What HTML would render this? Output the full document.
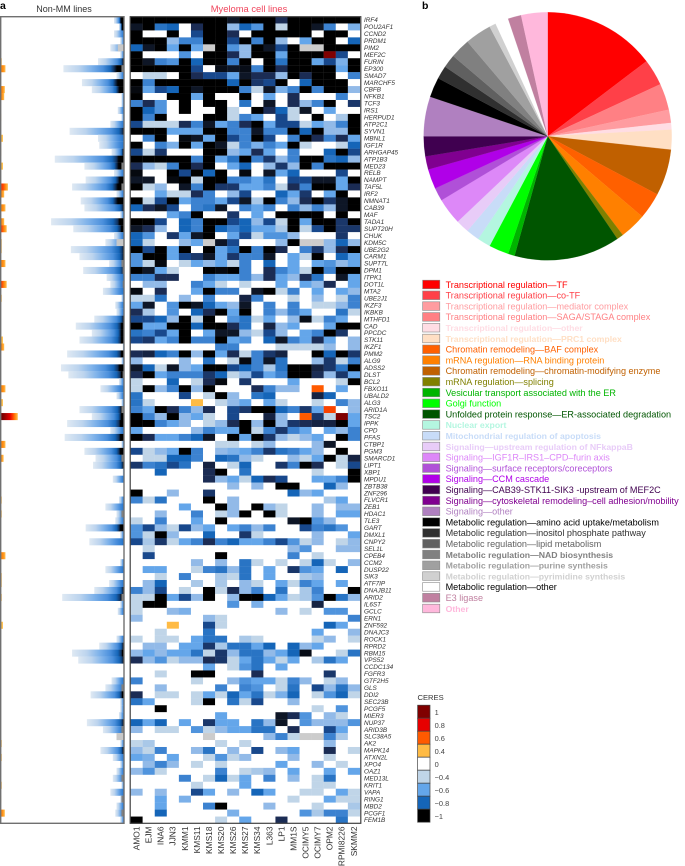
<!DOCTYPE html>
<html lang="en">
<head>
<meta charset="utf-8">
<title>CERES dependency heatmap and functional category pie</title>
<style>
html,body{margin:0;padding:0;background:#fff;}
body{width:685px;height:866px;overflow:hidden;font-family:"Liberation Sans",sans-serif;}
svg{display:block;font-family:"Liberation Sans",sans-serif;filter:blur(.3px);}
</style>
</head>
<body>
<svg id="chart" xmlns="http://www.w3.org/2000/svg" width="685" height="866" viewBox="0 0 685 866">
  <text x="0" y="9" font-size="10.5" font-weight="bold" fill="#000">a</text>
  <text x="422" y="9" font-size="10.5" font-weight="bold" fill="#000">b</text>
  <text x="64" y="12" font-size="9" text-anchor="middle" fill="#333">Non-MM lines</text>
  <text x="249" y="12" font-size="9.4" text-anchor="middle" fill="#f0455c">Myeloma cell lines</text>
  <defs id="grads"></defs>
  <g id="nonmm"></g>
  <g id="heat"></g>
  <g id="genes"></g>
  <g id="lines"></g>
  <rect x="0.7" y="16.7" width="123.3" height="806.6" fill="none" stroke="#707070" stroke-width="1.4"></rect>
  <rect x="130.2" y="16.7" width="230.6" height="806.6" fill="none" stroke="#404040" stroke-width="1.2"></rect>
  <g id="pie"></g>
  <g id="legend"></g>
  <g id="cbar">
    <text x="417.5" y="700" font-size="7.6" fill="#333">CERES</text>
  </g>
</svg>
<script>
const genes = ["IRF4","POU2AF1","CCND2","PRDM1","PIM2","MEF2C","FURIN","EP300","SMAD7","MARCHF5",
"CBFB","NFKB1","TCF3","IRS1","HERPUD1","ATP2C1","SYVN1","MBNL1","IGF1R","ARHGAP45",
"ATP1B3","MED23","RELB","NAMPT","TAF5L","IRF2","NMNAT1","CAB39","MAF","TADA1",
"SUPT20H","CHUK","KDM5C","UBE2G2","CARM1","SUPT7L","DPM1","ITPK1","DOT1L","MTA2",
"UBE2J1","IKZF3","IKBKB","MTHFD1","CAD","PPCDC","STK11","IKZF1","PMM2","ALG9",
"ADSS2","DLST","BCL2","FBXO11","UBALD2","ALG3","ARID1A","TSC2","IPPK","CPD",
"PFAS","CTBP1","PGM3","SMARCD1","LIPT1","XBP1","MPDU1","ZBTB38","ZNF296","FLVCR1",
"ZEB1","HDAC1","TLE3","GART","DMXL1","CNPY2","SEL1L","CPEB4","CCM2","DUSP22",
"SIK3","ATF7IP","DNAJB11","ARID2","IL6ST","GCLC","ERN1","ZNF592","DNAJC3","ROCK1",
"RPRD2","RBM15","VPS52","CCDC134","FGFR3","GTF2H5","GLS","DDI2","SEC23B","PCGF5",
"MIER3","NUP37","ARID3B","SLC38A5","AK2","MAPK14","ATXN2L","XPO4","OAZ1","MED13L",
"KRIT1","VAPA","RING1","MBD2","PCGF1","FEM1B"];

const cellLines = ["AMO1","EJM","INA6","JJN3","KMM1","KMS11","KMS18","KMS20","KMS26","KMS27","KMS34","L363","LP1","MM1S","OCIMY5","OCIMY7","OPM2","RPMI8226","SKMM2"];

/* CERES per gene (rows) and myeloma line (columns); null = not available */
const ceresValues = [
[-1,-1,-1,-1,-1,-1,-1,-1,-.95,-1,-1,-1,-.9,-1,-1,-1,-1,-1,-1],
[-.95,-1,-.75,-.8,0,-.9,-1,-1,-.5,-.8,-.65,-1,-.4,-1,-1,-.95,-.7,0,-.55],
[-1,0,0,-1,0,-.85,-1,-1,-.9,0,-1,-1,-1,-1,-1,0,-1,-1,0],
[-1,-1,-1,-.5,-.7,-.7,-1,-1,-.85,-1,-.7,-1,-.5,0,-.6,-1,-1,0,-.8],
[-.8,-.95,-1,-.6,-1,-.6,null,-1,-.65,-.5,-1,-.95,-.85,-1,null,null,-1,-1,-1],
[-1,0,0,0,-.65,0,-1,-1,-.9,-.5,-1,-1,-.6,-1,-1,-1,1,-.85,0],
[-1,-.95,-.7,-.65,-1,-.8,-1,-1,-.7,-1,0,-1,-.75,-1,-1,-.6,-.85,-.55,-1],
[-1,-1,-1,-1,-1,-.85,0,-.97,-.95,-.97,-.7,-1,-.9,-1,-1,-1,-1,-.6,-1],
[0,-.4,-.4,0,-1,-.9,-.85,-.85,-.6,-.95,-.9,-.9,-.5,-1,-.9,-1,-1,0,-.7],
[-1,-.7,-1,-1,-1,-1,-1,-1,-.8,-1,-.88,-.85,-1,0,-.8,-1,-1,-1,0],
[-.98,-.6,-.85,-.8,-1,-.95,-1,-1,-1,-.7,-.4,-.95,-.55,-.7,-1,-.7,-1,-1,-.5],
[-1,0,0,-1,-1,-.6,-1,0,0,-1,0,-.6,0,-.9,0,0,0,-.7,0],
[-.7,-.9,-.65,0,-1,0,-1,-1,0,-.75,0,-.95,0,-.9,-.5,-.7,-1,0,-.88],
[-1,-.8,-.65,0,-1,0,0,-1,-.4,0,-1,-.9,-.8,-.4,-.95,0,-.6,0,0],
[-1,-.7,-1,0,0,0,-1,-1,-.4,-.7,-.6,0,-.85,-.4,0,-1,0,-.45,-1],
[-.85,-.4,-.4,-.4,-.9,-.7,-.95,-.6,-.7,-.9,-1,-.6,-.85,-.85,-.4,-.6,-.5,-.7,-1],
[-1,-1,-1,-.6,-.6,-.6,-1,-1,-.7,-.7,-.95,-.7,-.7,-1,-.8,-1,-.5,-.5,-1],
[0,-.7,-1,0,-.98,-.95,-.6,-1,-.85,-.7,-1,-.85,0,-.7,-1,-.9,-.7,-.9,-.6],
[-1,0,-.7,-.55,-1,-.6,-1,-.95,-.4,-.7,-.55,-.7,-.6,-1,-.4,0,0,-.4,-.8],
[-.85,-.4,-.88,0,0,0,-1,-1,-.5,-.6,-.9,-.6,0,-.7,0,0,-.8,-1,-.85],
[-1,-1,-1,-1,-1,-.7,-1,-.6,-.75,-1,-.7,-.88,-.5,-.7,-1,-1,-.75,-.8,-.5],
[-.9,-.5,-.4,-.7,-1,-.9,-1,0,-.6,-.8,0,-.5,-.88,-.5,-1,-.7,-1,-1,-1],
[-.98,0,0,-1,-.85,-1,-.8,-1,0,-.98,0,-.95,-.6,-.8,0,0,0,-.85,0],
[-.95,-.95,0,-.98,-1,-.4,-1,-1,-.7,-.7,-.6,-.75,0,-.85,-.85,-.95,-.95,-.6,-1],
[-1,-.4,-.5,0,-.95,-.7,-1,-.88,-.88,-.6,-.6,-.7,-.4,-.9,-.7,-1,-1,-.6,-.9],
[0,0,-.6,-.4,-.4,-.9,-.7,0,-.5,-.85,0,0,-.8,-.6,-.88,0,-.6,-1,0],
[-1,-.4,-.85,-1,-.6,-.7,-.7,-.6,-.85,-.95,-.45,-1,-.7,-.5,-.9,-1,-.88,-.95,-1],
[-.8,-.9,-.95,-.85,0,-.7,-.75,-.95,0,-.7,-.6,-.7,0,-.7,-.5,-.7,-.5,-.95,-1],
[0,0,0,-.6,-.7,-1,0,0,-.88,0,-.6,0,-1,-1,-1,-1,0,-1,0],
[-1,-1,-.85,0,-.8,-.7,-1,-1,-.85,-.8,-.5,-.85,-.4,-1,-.6,-1,-1,-.88,-1],
[-.95,-.9,-.5,0,-.8,-.7,-1,-.8,-.7,-.8,-.6,-.6,-.45,-1,-.4,-.85,-1,-.88,-.88],
[-.8,-.65,0,-.88,-.6,-.95,-1,0,-.6,-.85,-.4,-.65,-.65,-.5,0,0,0,-.88,0],
[-.8,-.4,0,0,-.5,-.6,null,-.95,-.85,0,0,0,-.5,-1,null,null,-.5,-.8,-.5],
[-1,-.85,-1,-.6,-1,0,-1,-.6,-.75,-1,-.7,-1,-.9,0,-.7,-.88,-.5,-.9,-1],
[-.65,-1,-1,-.6,-.85,-.88,-.95,-.6,-.88,-.7,-.7,-.95,0,-.6,-.4,-1,0,-.8,-.6],
[-.65,-.4,-.98,0,-.4,-.6,-.5,-.6,-.4,-.7,0,-.8,0,-.6,0,-.6,-.65,-.5,-.6],
[-1,-.95,-.6,-.4,0,0,-1,-.98,-1,-.7,0,-.9,-.7,-.6,-.4,-1,-.7,-1,-1],
[-.7,-.7,-.9,-.9,0,0,-.7,-.6,-.6,-.7,-.5,-.9,-.6,-.5,-.9,-.75,0,-.95,-.6],
[0,-.5,-.5,0,0,-.7,-.6,-.4,0,-.4,0,0,-.6,0,-.6,-.5,-.9,0,-.6],
[-.98,0,-.9,0,0,-.6,-1,-.7,-.7,0,-.95,-1,-.4,-.7,0,-.6,0,-.6,-.5],
[-.4,-.4,-.75,0,-.5,0,-.7,0,0,-.92,-.7,0,0,-.4,0,-.5,0,-.4,-.7],
[-.6,-.95,0,-.65,-1,-.95,-.8,-.6,-.5,-.95,0,-.7,0,-.7,0,-.4,-.4,-.5,-.7],
[-.9,-.45,0,-.65,0,-.8,-.9,-1,-.6,-1,0,-.7,-.5,-.7,-.6,0,0,-.75,-.4],
[-.85,-.85,-.8,-.5,-1,-.4,-1,0,-.65,-.75,-.4,-.6,0,-.5,-.97,-.4,-.7,-.6,0],
[-1,-.6,-.6,-1,-1,-.8,-1,-1,-.9,-.75,0,-.92,-.5,-.6,0,0,-.6,-1,-1],
[-.75,-.7,-.85,-.6,-1,0,-.6,-.95,-.95,-.5,-.4,-.85,-.5,0,-.6,-.7,-1,-.88,0],
[-.85,-.88,-.6,-.7,-1,-.7,-.7,-1,-.6,-.65,0,-.8,-.95,-.7,-.6,-.9,-.6,0,-.5],
[0,0,0,0,0,0,0,-.7,-.7,0,0,0,-.4,-.4,-.4,-.4,-.5,0,-.5],
[-.9,-.92,-.8,-.7,-1,-.5,-1,-.6,-.9,-.4,-.7,-.88,-.92,0,0,-1,-.8,-1,-.88],
[-.5,0,0,0,-.5,0,-.75,0,-.4,-.98,-.7,-.95,-.75,0,0,-.5,-.88,-.4,-.7],
[-.95,-.8,-.4,-.95,-.5,-.6,-1,-1,-.85,-.8,-.7,-.45,-.75,-1,-1,-.92,-.88,-.75,-1],
[-.9,-1,-.6,-.7,-.7,-.7,-.88,-.8,-.4,-.5,-.85,-.6,-.7,-1,-1,-.9,-.5,-.88,-.6],
[-.4,0,0,-.8,0,-.4,-.9,-.98,0,-.88,0,0,0,-.6,0,0,0,-.4,-1],
[-.4,-1,-.5,-.7,-1,-.5,-1,0,0,0,-.9,-.7,-.5,-.5,0,.6,0,-.6,0],
[-.75,0,0,0,-.85,0,-.4,-1,-.5,0,-.75,-.8,0,0,0,-.92,-.8,0,0],
[-.75,-.4,0,0,0,.4,0,-.4,-.5,-.6,0,-.6,-.4,0,0,-.4,0,-.7,-.5],
[-.7,-.6,-1,-.9,-.7,-.5,-.9,0,-.85,-.88,-1,-1,-.8,-.7,-.88,-.6,.65,0,-.5],
[-1,-.7,-.5,-1,-.5,-.6,-.4,0,-.85,0,0,-.92,-.5,0,.6,-.88,-.4,1,-.6],
[-1,-1,-.7,-.6,-.5,0,-.4,-.5,-.9,-1,-.5,-1,-.5,-.88,-.9,-.92,-.92,-1,-.6],
[-.6,0,0,0,0,-.5,-.7,-.6,-.6,-1,-.4,-.7,-.88,-.7,-.6,0,-.6,-.5,-.7],
[-1,-.9,-.6,-.6,-.7,-.8,-.95,0,-1,-.6,-1,-.88,-.5,-.4,-.5,-.6,0,-1,-.7],
[0,0,0,0,0,0,0,-.4,-.4,0,-.4,-.5,0,0,0,-.5,-.95,0,0],
[-.85,-.4,-.5,-.6,-1,-.7,0,-.5,-.55,-.6,-.7,-.88,-.75,-.7,-.6,-.5,0,-1,0],
[0,-.4,-.4,-.8,-.8,-.7,0,-.8,-.75,-.5,-.4,0,0,-.5,-.4,-.6,-1,-.4,-.92],
[-.88,-.7,-.75,-.85,-.75,0,-.92,0,-.4,-.8,0,0,-.88,-.7,-1,-.9,0,-.4,-.85],
[0,0,-.8,0,0,0,-.9,-1,0,-.75,0,0,0,0,0,-.4,0,0,-1],
[0,0,0,0,0,0,-.9,-.5,-.6,-.4,-.8,-.9,-.85,0,0,-.6,-.6,-.7,-1],
[0,0,0,0,0,0,0,0,-.5,0,-.5,0,-1,-1,0,0,-.8,-.5,0],
[-1,0,0,-.5,0,0,-.88,0,0,0,0,0,0,-.8,-.5,-.6,0,0,0],
[-.7,-.4,-.75,0,0,0,-1,0,-.5,0,0,0,0,0,0,0,-.45,-.6,0],
[0,0,0,0,-.6,0,0,-1,-.5,0,-1,-.5,-.4,0,0,-.5,0,-.5,-.5],
[0,0,-.5,0,0,-.7,0,-.4,-.5,-1,0,-1,-.4,0,0,-.5,0,-.6,-.6],
[-.4,0,-.7,0,0,-.6,0,-1,0,0,0,0,0,-.95,-1,-.65,-.5,0,0],
[-.65,-.85,-.5,-.4,-.85,-.5,-.6,0,-.6,-.7,-.5,-.7,0,0,-.85,-.7,-.75,-.65,0],
[-.65,-.4,-1,-.5,0,0,-.8,0,0,-.88,-.4,0,0,0,0,-.5,0,0,-.6],
[-.85,-.45,-.88,-.4,-.6,-.7,-.9,-.7,-.8,-.6,-.6,-.7,-.85,-.65,-.4,-.5,0,-.4,-.5],
[0,-.4,0,0,0,0,0,0,0,0,0,0,0,-.5,-.65,0,0,-.5,-.5],
[0,-.85,0,0,0,0,0,-1,0,0,0,0,0,-.7,0,-.4,0,0,0],
[0,0,0,0,0,-.5,0,-.5,0,-.75,-.4,0,-.4,0,-.4,-.8,-.4,0,-.5],
[0,-.6,-.6,0,0,-.4,-.7,-.75,-.5,-.75,0,-.6,0,-.88,-.65,-.6,0,-.8,0],
[0,0,-.4,0,-.7,0,0,-.45,-.4,-.75,0,-.6,0,0,-.45,-.5,0,0,0],
[0,-.5,-.8,0,0,-.45,0,-.45,0,-.5,-.4,0,-.6,-.4,-.7,-.6,0,-.6,0],
[-.7,-.5,-.85,0,-.4,0,-1,-.4,-.9,-.5,-.7,0,-.75,0,-.45,-.7,0,0,-1],
[-.4,-.4,-1,-.6,-.85,-.5,-1,0,-.5,-1,-1,-.8,-.6,-.4,-.45,-.65,-1,-.75,-.5],
[-.4,-1,-1,0,0,0,0,0,-.65,0,-.55,0,0,0,0,-.92,0,0,0],
[-.4,0,0,-.5,-.55,0,0,0,0,0,0,0,-.5,0,-.4,0,-.65,-.65,0],
[-.5,0,0,0,0,0,-.5,-.4,0,0,0,0,0,0,0,0,0,0,-.7],
[0,0,0,.4,0,0,-.85,-.4,0,0,0,0,0,0,0,0,-.8,-.6,0],
[0,0,-.4,0,0,0,-.75,0,0,0,0,0,0,0,0,-.6,0,0,-.5],
[-.4,0,-.4,-.4,0,-.6,-.75,-.75,0,-.45,-.4,0,0,0,0,-.4,-.5,0,-.4],
[0,-.5,-.5,0,-.6,-.6,-.88,-.45,-.75,-.75,-.6,-.8,0,-.8,-.5,-.6,0,0,0],
[-.5,-.6,-.5,-.6,-.6,-.75,-.4,-.88,-.5,-.75,-.75,-.5,-.6,-.8,-.97,0,0,-.4,-.75],
[-.9,-.5,-.65,-.4,-.5,-.5,-.9,-.88,-.4,-.6,-.75,-.6,-.4,-.6,0,-.45,-.75,-.6,0],
[0,0,0,0,0,0,-.6,0,-.4,-.65,-.75,0,-.6,0,0,0,0,0,0],
[0,0,-.4,0,0,-1,-1,0,0,0,-.9,0,0,0,0,0,-.88,0,0],
[-.7,0,0,0,0,-.4,0,0,-.5,-.65,-.6,-.6,-.4,-.7,-.5,0,-.4,-.5,0],
[0,0,-.5,0,0,0,0,-.7,0,-.7,-.65,0,-.4,-.75,0,-.85,-.5,-.75,-.5],
[-.9,0,-.4,-.4,0,-.4,-.6,-.4,-.8,-.6,-.75,-.4,-.55,-.8,0,-.4,-.65,-.8,-.4],
[-.75,-.6,0,0,0,-.4,-1,0,-.75,-.4,-.85,0,0,-.5,0,0,0,0,0],
[0,0,-1,0,0,0,0,0,0,0,0,0,0,0,0,-.4,0,-.65,0],
[0,0,0,0,0,0,0,-.6,0,0,0,0,-.95,-.9,-.65,0,-.5,-.4,0],
[-.8,-.6,-.8,0,-.6,0,-.88,-.6,-.6,0,-.75,-.5,-.95,0,-.65,-.5,-.5,-.5,-.65],
[-.5,0,-.4,-.4,0,-.65,-.4,-.5,-.6,-.6,-.75,-.75,0,-.9,0,0,-.85,-.6,0],
[0,0,0,0,0,0,null,0,0,0,0,-.5,-.7,-.4,null,null,-.7,-.45,0],
[-.4,-.45,0,0,0,0,0,-.4,0,-.4,0,0,0,0,0,0,-.5,0,0],
[-.5,-.4,-.7,0,0,-.5,-.75,0,-.5,0,-.85,0,-.5,-.6,0,0,-.9,0,-.4],
[-.6,-.55,0,-.6,0,0,-.4,-.65,-.4,-.5,0,0,0,-.5,0,0,-.4,0,0],
[0,-.5,-.7,-.5,0,-.4,0,-.4,0,0,0,0,-.6,0,0,-.5,0,-.4,0],
[-.5,-.65,-.4,0,0,0,0,-.7,0,-.4,-.45,-.5,0,-.6,0,0,-.6,0,-.6],
[0,0,0,0,-.7,0,-.4,-.8,-.4,-.6,0,-.7,0,-.5,0,-.4,-.75,0,0],
[0,0,0,0,0,-.4,0,0,0,-.6,0,0,0,0,0,-.4,-.4,0,0],
[-.5,0,-.5,0,0,-.85,-.6,0,-.5,0,-.8,-.6,0,0,-.4,-.4,0,-.6,-.4],
[0,0,-.6,0,-.55,0,0,0,0,0,0,0,0,-.4,0,0,-.6,-.4,-.4],
[0,0,-.6,0,0,0,-.7,-1,0,0,0,-.5,0,0,0,-.4,0,0,-.45],
[0,0,-.8,0,0,0,0,0,-.55,0,0,0,0,0,-.65,-.45,-.7,-.7,-.4],
[-1,0,0,0,0,0,0,-.4,0,-.6,0,0,-.9,0,0,0,0,-.75,0]
];

/* Non-MM panel: share of lines (percent of panel width) per gene */
const nonMMDependentPct = [8,4,8,3,11,3,21,49,6,34,
26,2,2,5,2,11,44,21,20,10,
56,32,8,31,42,6,35,32,3,59,
41,8,15,43,36,12,33,14,11,17,
2,7,6,24,39,26,36,1,46,2,
51,45,4,19,6,2,36,26,46,11,
48,2,32,23,25,1,9,0,0,4,
15,6,7,31,3,28,0,0,3,15,
1,12,24,50,3,5,0,0,0,6,
20,42,37,0,0,10,15,27,3,3,
4,30,17,0,3,19,9,3,6,9,
2,11,3,6,7,3];
const nonMMStrongPct = [3,2,0,0,0,0,1,8,0,7,
5,0,0,0,0,0,1,0,0,1,
6,6,0,5,7,0,7,1,0,5,
3,0,0,1,1,0,1,0,0,0,
0,0,0,1,3,3,3,0,3,0,
5,3,0,0,0,0,3,3,4,0,
4,0,4,1,1,0,0,0,0,0,
0,0,0,4,0,0,0,0,0,0,
0,0,1,3,0,0,0,0,0,0,
1,2,1,0,0,0,0,2,0,0,
0,1,0,0,0,1,0,0,0,0,
0,0,0,0,0,0];
const nonMMMissingPct = [0,0,0,0,5,0,0,2,0,0,
0,0,0,0,0,0,0,0,0,0,
0,2,0,0,2,0,0,0,0,0,
0,0,6,0,0,2,1,0,1,0,
0,0,0,0,0,0,0,0,0,0,
0,1,0,0,0,0,2,0,0,0,
0,0,0,2,0,0,0,0,0,0,
0,2,0,0,0,0,0,0,0,0,
0,0,0,2,0,0,0,0,0,0,
0,0,0,0,0,0,2,0,0,0,
0,0,2,6,0,0,0,0,0,2,
0,0,2,0,2,0];
const nonMMPositivePct = [0,0,0,0,0,0,1,4,0,0,
3.5,3,0,0,.5,0,0,2,0,.5,
0,2,0,0,6,3,0,4,0,3,
5,0,1,1,0,4,0,0,5,0,
1,0,0,0,0,0,2,3,0,0,
0,0,0,4,0,2,.5,14,0,0,
0,4,0,2.5,0,0,0,0,0,1,
0,1,0,0,0,0,0,4,0,0,
1,1,0,1,0,0,0,2,0,0,
0,0,0,0,0,0,0,0,0,0,
0,0,0,0,1,0,1,0,0,0,
1,0,.5,0,3.5,0];

/* Legend and pie */
const legendNames = ["Transcriptional regulation—TF","Transcriptional regulation—co-TF","Transcriptional regulation—mediator complex","Transcriptional regulation—SAGA/STAGA complex","Transcriptional regulation—other","Transcriptional regulation—PRC1 complex","Chromatin remodeling—BAF complex","mRNA regulation—RNA binding protein","Chromatin remodeling—chromatin-modifying enzyme","mRNA regulation—splicing","Vesicular transport associated with the ER","Golgi function","Unfolded protein response—ER-associated degradation","Nuclear export","Mitochondrial regulation of apoptosis","Signaling—upstream regulation of NFkappaB","Signaling—IGF1R–IRS1–CPD–furin axis","Signaling—surface receptors/coreceptors","Signaling—CCM cascade","Signaling—CAB39-STK11-SIK3 -upstream of MEF2C","Signaling—cytoskeletal remodeling–cell adhesion/mobility","Signaling—other","Metabolic regulation—amino acid uptake/metabolism","Metabolic regulation—inositol phosphate pathway","Metabolic regulation—lipid metabolism","Metabolic regulation—NAD biosynthesis","Metabolic regulation—purine synthesis","Metabolic regulation—pyrimidine synthesis","Metabolic regulation—other","E3 ligase","Other"];
const legendColors = ["#ff0000","#ff4048","#ff9ca0","#ff8084","#ffdde4","#ffdfc4","#ff6000","#ff8000","#c06000","#808000","#00b400","#00ff00","#005500","#b4f6e0","#c8dcf8","#e8ccf8","#dd88f8","#b050d8","#b000e8","#400050","#800090","#b080c0","#000000","#303030","#606060","#808080","#a0a0a0","#d0d0d0","#ffffff","#c080a0","#ffb8dc"];
const legendBold = ["Transcriptional regulation—other","Transcriptional regulation—PRC1 complex","Nuclear export","Mitochondrial regulation of apoptosis","Signaling—upstream regulation of NFkappaB","Metabolic regulation—NAD biosynthesis","Metabolic regulation—purine synthesis","Metabolic regulation—pyrimidine synthesis","Other"];
const pieSliceNames = ["Transcriptional regulation—TF","Transcriptional regulation—co-TF","Transcriptional regulation—SAGA/STAGA complex","Transcriptional regulation—mediator complex","Transcriptional regulation—other","Transcriptional regulation—PRC1 complex","Chromatin remodeling—chromatin-modifying enzyme","Chromatin remodeling—BAF complex","mRNA regulation—RNA binding protein","mRNA regulation—splicing","Unfolded protein response—ER-associated degradation","Vesicular transport associated with the ER","Golgi function","Nuclear export","Mitochondrial regulation of apoptosis","Signaling—upstream regulation of NFkappaB","Signaling—IGF1R–IRS1–CPD–furin axis","Signaling—surface receptors/coreceptors","Signaling—CCM cascade","Signaling—cytoskeletal remodeling–cell adhesion/mobility","Signaling—CAB39-STK11-SIK3 -upstream of MEF2C","Signaling—other","Metabolic regulation—amino acid uptake/metabolism","Metabolic regulation—inositol phosphate pathway","Metabolic regulation—lipid metabolism","Metabolic regulation—NAD biosynthesis","Metabolic regulation—purine synthesis","Metabolic regulation—pyrimidine synthesis","Metabolic regulation—other","E3 ligase","Other"];
const pieCounts = [17,4,4,2,1,3,7,4,4,1,16,1,3,2,2,2,4,2,3,2,3,6,3,2,2,3,4,1,2,2,4];

const colorbarValues = [1,.8,.6,.4,0,-.4,-.6,-.8,-1];
const colorbarLabels = ["1","0.8","0.6","0.4","0","−0.4","−0.6","−0.8","−1"];

const SVGNS = "http://www.w3.org/2000/svg";
function make(parent, tag, attrs){
  const el = document.createElementNS(SVGNS, tag);
  for (const k in attrs) el.setAttribute(k, attrs[k]);
  parent.appendChild(el);
  return el;
}
const rowTop = 16.5, rowH = 6.957;
const heatLeft = 130.6, colW = 12.07;
const panelLeft = 0.5, panelW = 123.4;
const yRow = r => rowTop + r * rowH;
const xCol = c => heatLeft + c * colW;
const pctW = p => p / 100 * panelW;

const colorStops = [
  [-1,[0,0,0]],[-.95,[14,22,38]],[-.9,[27,44,84]],[-.85,[24,72,140]],[-.8,[21,101,184]],
  [-.7,[60,130,208]],[-.6,[100,166,234]],[-.5,[146,186,232]],[-.4,[192,213,232]],
  [-.3,[255,255,255]],[.3,[255,255,255]],[.4,[255,187,68]],[.6,[255,90,0]],[.8,[230,0,0]],[1,[128,0,0]]
];
function ceresColor(v){
  if (v === null) return "#cccccc";
  if (v <= -1) return "rgb(0,0,0)";
  if (v >= 1) return "rgb(128,0,0)";
  for (let i = 1; i < colorStops.length; i++){
    if (v <= colorStops[i][0]){
      const a = colorStops[i-1], b = colorStops[i];
      const t = (v - a[0]) / (b[0] - a[0]);
      return "rgb(" + [0,1,2].map(k => Math.round(a[1][k] + (b[1][k]-a[1][k])*t)).join(",") + ")";
    }
  }
  return "#fff";
}

/* heatmap cells */
const heatG = document.getElementById("heat");
ceresValues.forEach((row, r) => {
  row.forEach((v, c) => {
    const cell = make(heatG, "rect", {x: xCol(c), y: yRow(r), width: colW + .15, height: rowH + .15, fill: ceresColor(v)});
    
    
  });
});

/* gene labels */
const geneG = document.getElementById("genes");
genes.forEach((g, r) => {
  const t = make(geneG, "text", {x: 364, y: yRow(r) + rowH/2 + 2.2, "font-size": 6.4, "font-style": "italic", fill: "#333"});
  t.textContent = g;
  
  
});

/* cell line labels */
const lineG = document.getElementById("lines");
cellLines.forEach((n, c) => {
  const cx = xCol(c) + colW/2 + 2.9;
  const t = make(lineG, "text", {x: cx, y: 826.5, "font-size": 8.4, fill: "#333", "text-anchor": "end", transform: "rotate(-90 " + cx + " 826.5)"});
  t.textContent = n;
  
  
});

/* non-MM panel */
const nmG = document.getElementById("nonmm");
const defs = document.getElementById("grads");
function addStop(grad, off, col){
  make(grad, "stop", {offset: off, "stop-color": col});
}
genes.forEach((g, r) => {
  const w = pctW(nonMMDependentPct[r]);
  const deep = pctW(nonMMStrongPct[r]);
  if (w > 0){
    const id = "neg" + r;
    const grad = make(defs, "linearGradient", {id: id, x1: 0, x2: 1, y1: 0, y2: 0});
    const frac = deep / w;
    const span = 1 - frac;
    addStop(grad, 0, "#dfe9f3");
    addStop(grad, span * .3, "#bcd4ee");
    addStop(grad, span * .55, "#7eb2ea");
    addStop(grad, span * .78, "#4a8fdc");
    addStop(grad, span * .93, deep > 0 ? "#1565b8" : "#2f7cd0");
    addStop(grad, span, deep > 0 ? "#10325e" : "#1f6cc0");
    addStop(grad, Math.min(1, span + frac * .3), deep > 0 ? "#000" : "#1f6cc0");
    addStop(grad, 1, deep > 0 ? "#000" : "#1f6cc0");
    const bar = make(nmG, "rect", {x: panelLeft + panelW - w, y: yRow(r), width: w, height: rowH + .1, fill: "url(#" + id + ")"});
    
    
  }
  const gw = pctW(nonMMMissingPct[r]);
  if (gw > 0){
    const gr = make(nmG, "rect", {x: panelLeft + panelW - gw, y: yRow(r), width: gw, height: rowH + .1, fill: gw > 4 ? "#c8c8c8" : "#808080"});
    
    
  }
  const pw = pctW(nonMMPositivePct[r]);
  if (pw > 0){
    const id = "pos" + r;
    const grad = make(defs, "linearGradient", {id: id, x1: 0, x2: 1, y1: 0, y2: 0});
    const stops = [[0,"#ffc050"],[2.5,"#ff8a10"],[5,"#ff4000"],[8,"#e00000"],[15,"#7a0000"]];
    stops.slice().reverse().forEach(s => {
      if (s[0] <= pw) addStop(grad, 1 - s[0]/pw, s[1]);
    });
    if (pw < 2.5) { addStop(grad, 0, "#ff9a20"); addStop(grad, 1, "#ffc050"); }
    const bar = make(nmG, "rect", {x: panelLeft, y: yRow(r), width: pw, height: rowH + .1, fill: "url(#" + id + ")"});
    
    
  }
});

/* pie */
const pieG = document.getElementById("pie");
const pieCx = 547.7, pieCy = 136.3, pieR = 124;
const pieTotal = pieCounts.reduce((a,b)=>a+b,0);
const legendColorOf = n => legendColors[legendNames.indexOf(n)];
let running = 0;
pieCounts.forEach((cnt, i) => {
  const a0 = running / pieTotal * 2 * Math.PI;
  running += cnt;
  const a1 = running / pieTotal * 2 * Math.PI;
  const large = (a1 - a0) > Math.PI ? 1 : 0;
  const d = "M" + pieCx + " " + pieCy +
    "L" + (pieCx + pieR*Math.sin(a0)).toFixed(2) + " " + (pieCy - pieR*Math.cos(a0)).toFixed(2) +
    "A" + pieR + " " + pieR + " 0 " + large + " 1 " + (pieCx + pieR*Math.sin(a1)).toFixed(2) + " " + (pieCy - pieR*Math.cos(a1)).toFixed(2) + "Z";
  const col = legendColorOf(pieSliceNames[i]);
  const s = make(pieG, "path", {d: d, fill: col, stroke: col, "stroke-width": .2});
  
  
});

/* legend */
const legG = document.getElementById("legend");
const legTop = 280.2, legPitch = 10.8;
legendNames.forEach((n, i) => {
  const y = legTop + i * legPitch;
  const col = legendColors[i];
  const isBold = legendBold.indexOf(n) >= 0;
  const sw = make(legG, "rect", {x: 422.6, y: y, width: 17.2, height: 8.6, fill: col, stroke: "#8a8a8a", "stroke-width": .6});
  
  
  const t = make(legG, "text", {x: 445.6, y: y + 7.6, "font-size": isBold ? 8.7 : 9.1, fill: col === "#ffffff" ? "#000" : col});
  if (isBold) t.setAttribute("font-weight", "bold");
  t.textContent = n;
  
  
});

/* colorbar */
const cbG = document.getElementById("cbar");
colorbarValues.forEach((v, i) => {
  const y = 705.2 + i * 13;
  const sw = make(cbG, "rect", {x: 417.6, y: y, width: 12.4, height: 13, fill: ceresColor(v), stroke: "#444", "stroke-width": .7});
  
  
  const t = make(cbG, "text", {x: 434.6, y: y + 10, "font-size": 7.4, fill: "#444"});
  t.textContent = colorbarLabels[i];
  
  
});
</script>
</body>
</html>
